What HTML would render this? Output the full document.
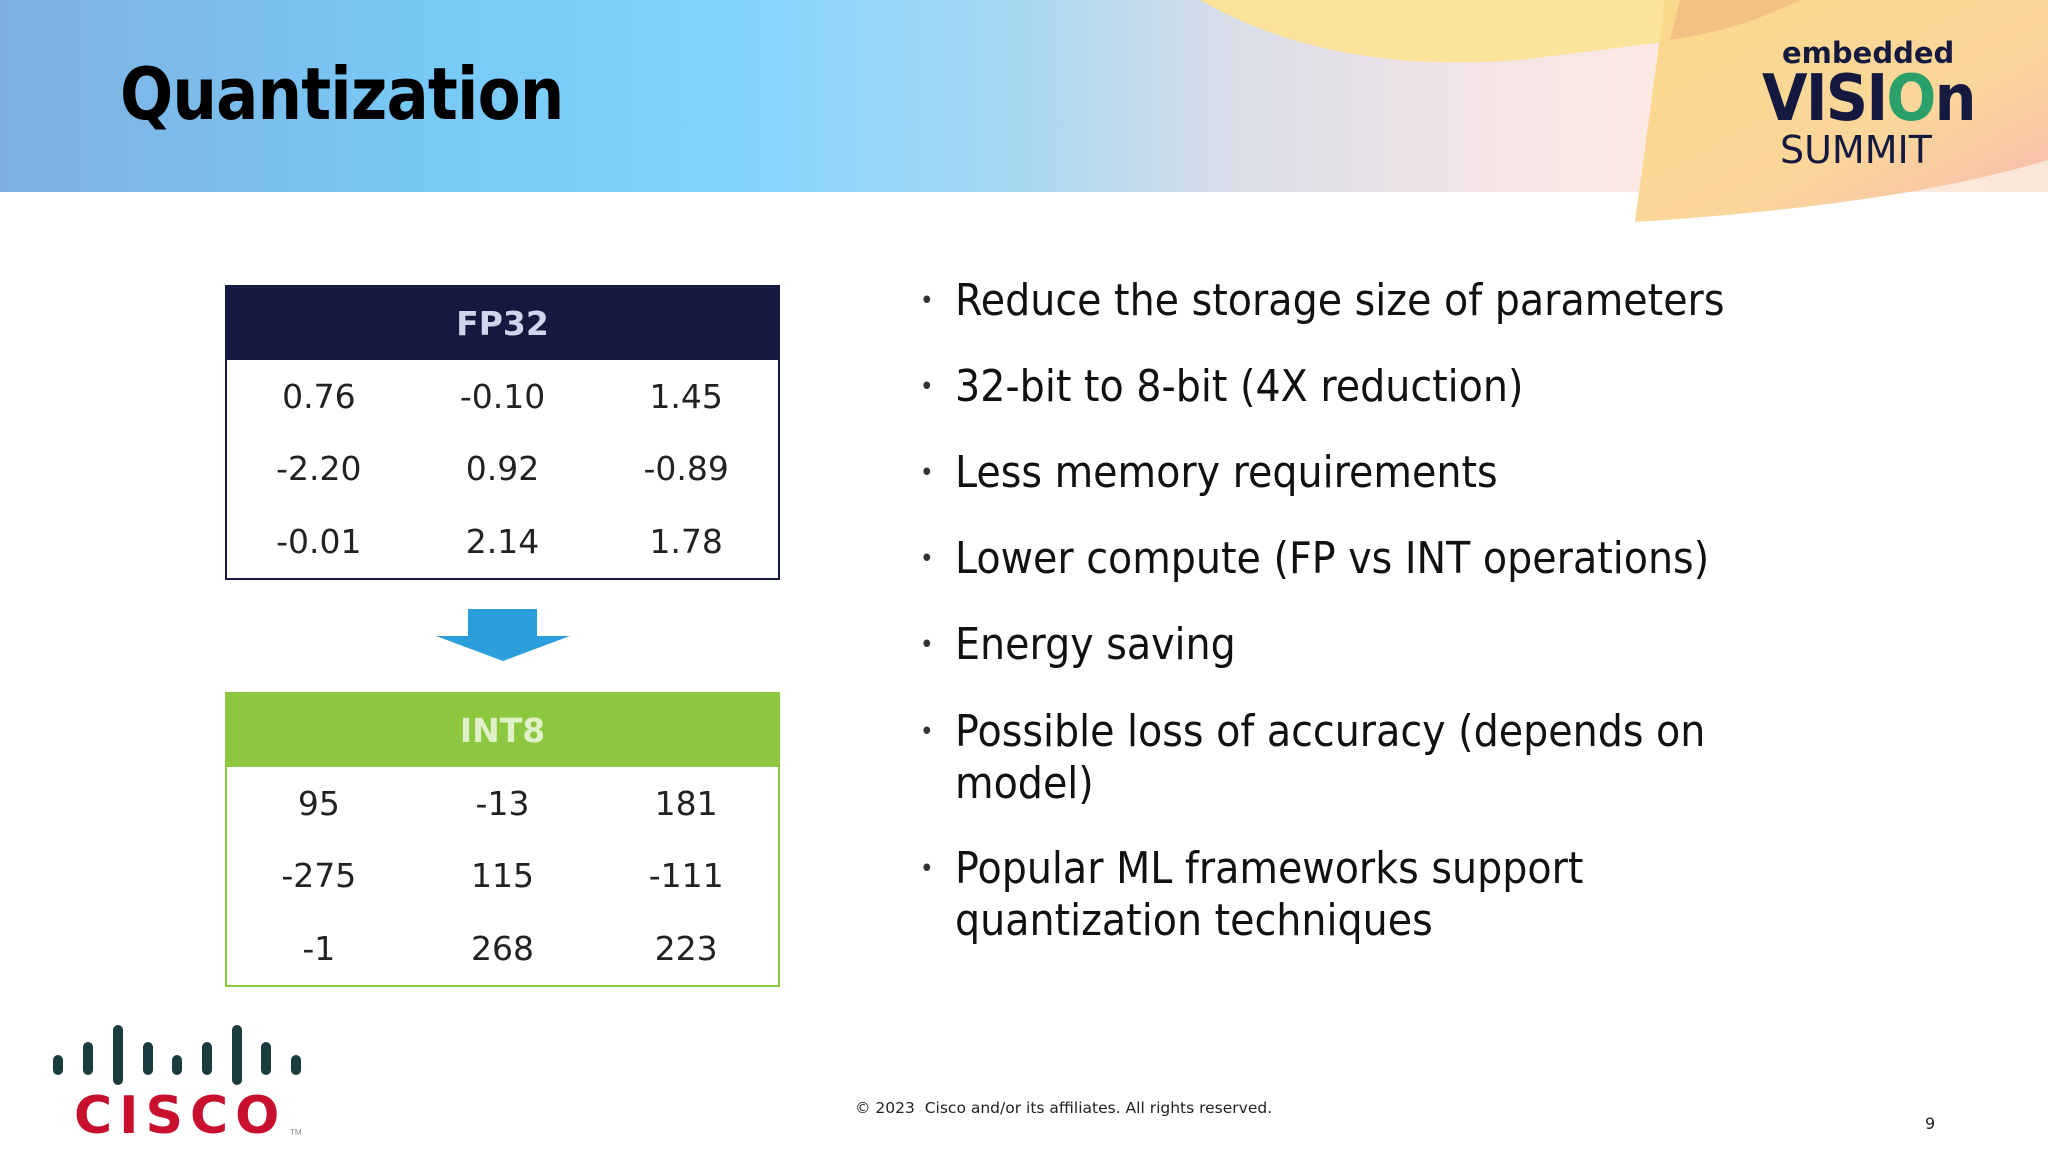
<!DOCTYPE html>
<html><head><meta charset="utf-8"><style>
*{margin:0;padding:0;box-sizing:border-box}
body{width:2048px;height:1152px;position:relative;background:#fff;font-family:"DejaVu Sans","Liberation Sans",sans-serif;overflow:hidden}
.abs{position:absolute}
.tbl{position:absolute;left:225px;width:555px}
.hdr{height:73px;display:flex;align-items:center;justify-content:center;font-weight:bold;font-size:33px}
.row{display:flex;height:72.6px;align-items:center;font-size:33px;color:#222}
.row span{flex:1;text-align:center}
.bul{position:absolute;left:955px;font-size:44px;color:#111;line-height:52px;transform:scaleX(0.9);transform-origin:left;white-space:nowrap}
.bul::before{content:"•";position:absolute;left:-39px;font-size:26px;color:#333}
</style></head><body>
<div class="abs" style="left:0;top:0;width:2048px;height:192px;background:linear-gradient(90deg,#7fb0e0 0%,#78c8f6 20%,#80d4fe 35%,#a8d8f2 50%,#d8dde8 60%,#f2e4e6 72%,#fbeae4 80%,#fbe7d8 100%)"></div>
<svg class="abs" style="left:0;top:0" width="2048" height="240">
<defs><linearGradient id="g1" x1="0" y1="0" x2="1" y2="1"><stop offset="0" stop-color="#f9d98a"/><stop offset="0.6" stop-color="#fbd69a"/><stop offset="1" stop-color="#f7b7b0"/></linearGradient></defs>
<path d="M1200 0 Q1330 75 1520 60 L1680 40 L1680 0Z" fill="#fbe39c"/>
<path d="M1665 0 L2048 0 L2048 160 Q1900 205 1635 222 Z" fill="url(#g1)"/>
<path d="M1680 0 L1800 0 Q1740 30 1670 40Z" fill="#f3c184"/>
</svg>
<div class="abs" style="left:120px;top:52px;font-size:72px;font-weight:bold;color:#000;letter-spacing:-1px;transform:scaleX(0.87);transform-origin:left">Quantization</div>
<div class="abs" style="left:1782px;top:36px;width:172px;text-align:center;font-size:29px;font-weight:bold;color:#15193f">embedded</div>
<div class="abs" style="left:1762px;top:62px;font-size:64px;font-weight:900;color:#15193f;letter-spacing:-2px;transform:scaleX(0.92);transform-origin:left">VISI<span style="color:#2aa06a">O</span>n</div>
<div class="abs" style="left:1780px;top:128px;font-size:38px;color:#15193f;letter-spacing:0px">SUMMIT</div>

<div class="tbl" style="top:285px;border:2px solid #15193f">
<div class="hdr" style="background:#15193f;color:#d0d4ec">FP32</div>
<div class="row"><span>0.76</span><span>-0.10</span><span>1.45</span></div>
<div class="row"><span>-2.20</span><span>0.92</span><span>-0.89</span></div>
<div class="row"><span>-0.01</span><span>2.14</span><span>1.78</span></div>
</div>
<svg class="abs" style="left:436px;top:609px" width="134" height="52"><path d="M32 0 H101 V27 H134 L67 52 L0 27 H32Z" fill="#2a9fdb"/></svg>
<div class="tbl" style="top:692px;border:2px solid #8dc63f">
<div class="hdr" style="background:#8dc63f;color:#e0f0c8">INT8</div>
<div class="row"><span>95</span><span>-13</span><span>181</span></div>
<div class="row"><span>-275</span><span>115</span><span>-111</span></div>
<div class="row"><span>-1</span><span>268</span><span>223</span></div>
</div>

<div class="bul" style="top:275px">Reduce the storage size of parameters</div>
<div class="bul" style="top:361px">32-bit to 8-bit (4X reduction)</div>
<div class="bul" style="top:447px">Less memory requirements</div>
<div class="bul" style="top:533px">Lower compute (FP vs INT operations)</div>
<div class="bul" style="top:619px">Energy saving</div>
<div class="bul" style="top:706px">Possible loss of accuracy (depends on<br>model)</div>
<div class="bul" style="top:843px">Popular ML frameworks support<br>quantization techniques</div>

<svg class="abs" style="left:0;top:1000px" width="320" height="152">
<g stroke="#1b3c3e" stroke-width="10" stroke-linecap="round">
<line x1="58" y1="60" x2="58" y2="70"/><line x1="88" y1="47" x2="88" y2="70"/><line x1="118" y1="30" x2="118" y2="80"/><line x1="148" y1="47" x2="148" y2="70"/><line x1="177" y1="60" x2="177" y2="70"/><line x1="207" y1="47" x2="207" y2="70"/><line x1="237" y1="30" x2="237" y2="80"/><line x1="266" y1="47" x2="266" y2="70"/><line x1="296" y1="60" x2="296" y2="70"/>
</g>
<text x="74" y="133" font-family="DejaVu Sans" font-weight="bold" font-size="52" fill="#c8102e" letter-spacing="7">CISCO</text>
<text x="290" y="135" font-family="Liberation Sans" font-size="8" fill="#888">TM</text>
</svg>
<div class="abs" style="left:855px;top:1099px;font-size:15.5px;color:#222">© 2023&nbsp; Cisco and/or its affiliates. All rights reserved.</div>
<div class="abs" style="left:1925px;top:1114px;font-size:16px;color:#222">9</div>
</body></html>
